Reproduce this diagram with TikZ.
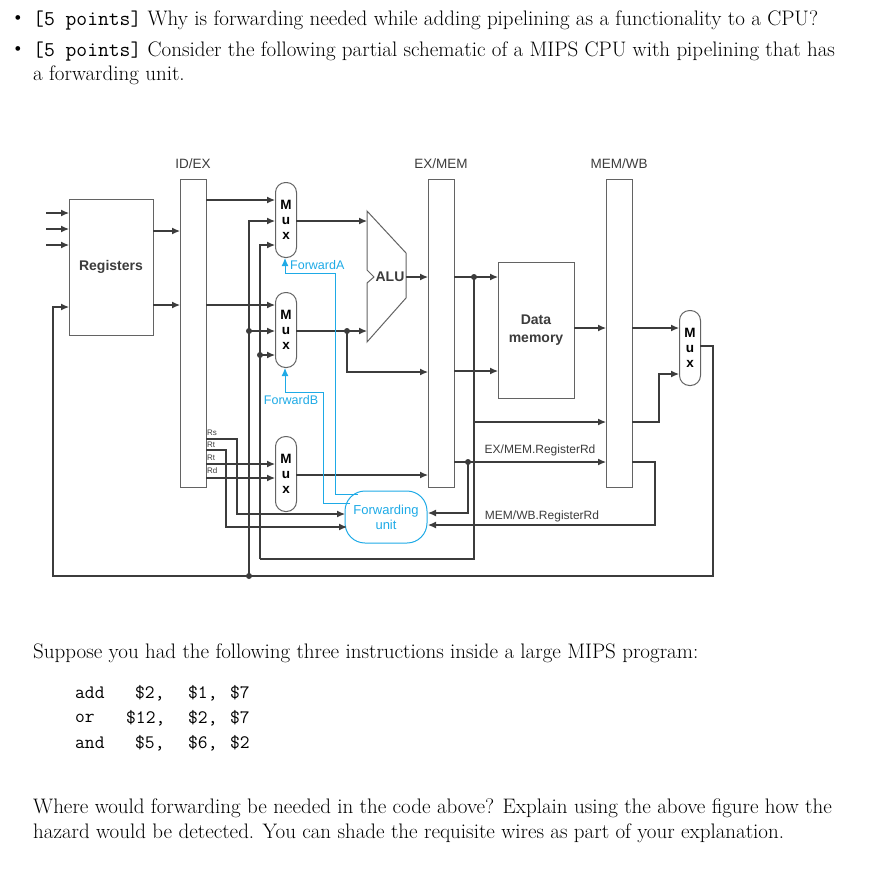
\documentclass[tikz,border=0pt]{standalone}
\usepackage{fontspec}
\newfontfamily\dsans{Liberation Sans}
\usetikzlibrary{arrows.meta}
\definecolor{fw}{RGB}{30,170,230}
\definecolor{ln}{RGB}{60,60,60}
\begin{document}
\begin{tikzpicture}[x=1pt,y=-1pt,
  w/.style={draw=ln,line width=1.2pt},
  a/.style={w,-{Latex[length=8pt,width=7pt]}},
  b/.style={draw=fw,line width=1pt},
  ba/.style={b,-{Latex[length=8pt,width=7pt]}},
  box/.style={draw=ln!80,line width=1pt,fill=white},
  mux/.style={box,rounded corners=10pt,minimum width=21pt,align=center,inner sep=0pt,font=\dsans\bfseries\fontsize{13.5}{15}\selectfont},
  dl/.style={font=\dsans\fontsize{13.5}{15}\selectfont,text=ln},
  sm/.style={font=\dsans\fontsize{8}{9}\selectfont,text=ln,inner sep=0pt,anchor=west},
  dot/.style={circle,fill=ln,inner sep=0pt,minimum size=6pt},
  body/.style={font=\fontsize{21}{24}\selectfont,anchor=west,inner sep=0pt},
  code/.style={font=\ttfamily\fontsize{19}{24}\selectfont,anchor=west,inner sep=0pt}]
\useasboundingbox (0,0) rectangle (888,868);
% text
\node[font=\fontsize{21}{24}\selectfont] (b1) at (18,20) {\textbullet};
\node[body] (t1) at (33,20) {{\ttfamily [5 points]} Why is forwarding needed while adding pipelining as a functionality to a CPU?};
\node[font=\fontsize{21}{24}\selectfont] (b2) at (18,51) {\textbullet};
\node[body] (t2) at (33,51) {{\ttfamily [5 points]} Consider the following partial schematic of a MIPS CPU with pipelining that has};
\node[body] (t3) at (33,75) {a forwarding unit.};
\node[body] (t4) at (33,653) {Suppose you had the following three instructions inside a large MIPS program:};
\node[code] (c1a) at (75,693) {add}; \node[code] (c1b) at (135,693) {\$2,}; \node[code] (c1c) at (188,693) {\$1,}; \node[code] (c1d) at (230,693) {\$7};
\node[code] (c2a) at (75,718) {or}; \node[code] (c2b) at (126,718) {\$12,}; \node[code] (c2c) at (188,718) {\$2,}; \node[code] (c2d) at (230,718) {\$7};
\node[code] (c3a) at (75,743) {and}; \node[code] (c3b) at (135,743) {\$5,}; \node[code] (c3c) at (188,743) {\$6,}; \node[code] (c3d) at (230,743) {\$2};
\node[body] (t5) at (33,808) {Where would forwarding be needed in the code above? Explain using the above figure how the};
\node[body] (t6) at (33,833) {hazard would be detected. You can shade the requisite wires as part of your explanation.};
% boxes
\node[box,minimum width=84pt,minimum height=136pt,anchor=north west] (reg) at (69,199) {};
\node[dl,font=\dsans\bfseries\fontsize{14}{15}\selectfont] at (111,267) {Registers};
\node[box,minimum width=26pt,minimum height=308pt,anchor=north west] (idex) at (180,179) {};
\node[box,minimum width=26pt,minimum height=308pt,anchor=north west] (exmem) at (428,179) {};
\node[box,minimum width=26pt,minimum height=308pt,anchor=north west] (memwb) at (606,179) {};
\node[dl] at (193,164) {ID/EX};
\node[dl] at (441,164) {EX/MEM};
\node[dl] at (619,164) {MEM/WB};
\node[box,minimum width=76pt,minimum height=136pt,anchor=north west] (dm) at (498,262) {};
\node[dl,font=\dsans\bfseries\fontsize{14}{18}\selectfont,align=center] at (536,330) {Data\\memory};
\node[mux,minimum height=75pt,anchor=north west] (m1) at (275,182) {M\\u\\x};
\node[mux,minimum height=75pt,anchor=north west] (m2) at (275,292) {M\\u\\x};
\node[mux,minimum height=75pt,anchor=north west] (m3) at (275,436) {M\\u\\x};
\node[mux,minimum height=75pt,anchor=north west] (m4) at (679,310) {M\\u\\x};
\draw[box] (367,211) -- (406,253) -- (406,298) -- (367,342) -- (367,283) -- (374,277) -- (367,270) -- cycle;
\node[dl,font=\dsans\bfseries\fontsize{14}{15}\selectfont] (alu) at (390,277) {ALU};
\node[draw=fw,line width=1pt,rounded corners=20pt,minimum width=82pt,minimum height=52pt,align=center,text=fw,font=\dsans\fontsize{13}{15}\selectfont] (fu) at (386,517) {Forwarding\\unit};
% coordinates
\coordinate (d1) at (249,331); \coordinate (d2) at (260,355); \coordinate (d3) at (347,331);
\coordinate (d4) at (474,277); \coordinate (d5) at (468,462); \coordinate (d6) at (249,576);
% inputs
\foreach \y in {213,229,245}{\draw[a] (46,\y) -- (69,\y);}
\draw[a] (153,231) -- (180,231);
\draw[a] (153,305) -- (180,305);
\draw[a] (206,200) -- (275,200);
\draw[a] (206,305) -- (275,305);
\draw[a] (249,576) -- (249,221) -- (275,221);
\draw[a] (260,559) -- (260,245) -- (275,245);
\draw[a] (d1) -- (275,331);
\draw[a] (d2) -- (275,355);
\draw[a] (296,221) -- (367,221);
\draw[a] (296,331) -- (367,331);
\draw[a] (d3) -- (347,372) -- (428,372);
\draw[a] (406,277) -- (428,277);
\draw[a] (296,475) -- (428,475);
\draw[a] (206,464) -- (275,464);
\draw[a] (206,478) -- (275,478);
\draw[a] (206,439) -- (237,439) -- (237,514) -- (345,514);
\draw[a] (206,450) -- (226,450) -- (226,527) -- (347,527);
\draw[a] (454,277) -- (498,277);
\draw[a] (454,371) -- (498,371);
\draw[w] (260,559) -- (474,559) -- (d4);
\draw[a] (474,422) -- (606,422);
\draw[a] (574,328) -- (606,328);
\draw[a] (454,462) -- (606,462);
\draw[a] (d5) -- (468,513) -- (428,513);
\draw[a] (632,462) -- (655,462) -- (655,525) -- (428,525);
\draw[a] (632,328) -- (679,328);
\draw[a] (632,422) -- (659,422) -- (659,374) -- (679,374);
\draw[a] (700,346) -- (713,346) -- (713,576) -- (53,576) -- (53,307) -- (69,307);
\foreach \p in {d1,d2,d3,d4,d5,d6}{\node[dot] at (\p) {};}
% labels
\node[sm] at (207,433) {Rs};
\node[sm] at (207,445) {Rt};
\node[sm] at (207,458) {Rt};
\node[sm] at (207,471) {Rd};
\node[dl,font=\dsans\fontsize{12}{13}\selectfont] at (540,450) {EX/MEM.RegisterRd};
\node[dl,font=\dsans\fontsize{12}{13}\selectfont] at (542,516) {MEM/WB.RegisterRd};
% forward signals
\draw[ba] (358,494) -- (335,494) -- (335,273) -- (285,273) -- (285,258);
\draw[ba] (350,503) -- (323,503) -- (323,392) -- (285,392) -- (285,368);
\node[text=fw,font=\dsans\fontsize{12.5}{13}\selectfont,anchor=west,inner sep=0pt] at (290,265) {ForwardA};
\node[text=fw,font=\dsans\fontsize{12.5}{13}\selectfont,inner sep=0pt,fill=white] at (291,400) {ForwardB};
\end{tikzpicture}
\end{document}
